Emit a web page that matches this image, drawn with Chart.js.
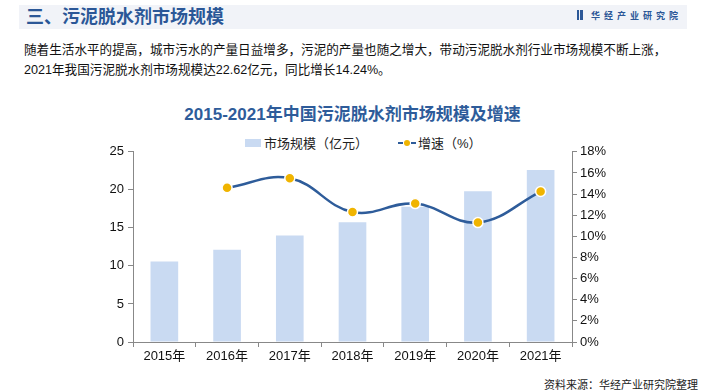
<!DOCTYPE html>
<html>
<head>
<meta charset="utf-8">
<script src="https://cdn.jsdelivr.net/npm/chart.js@4"></script>
<style>
  body { margin: 0; width: 705px; height: 392px; background: #fff; position: relative; overflow: hidden;
         font-family: "Liberation Sans", "Noto Sans CJK SC", sans-serif; }
  .band { position: absolute; left: 19px; top: 5px; width: 668px; height: 24px; background: #f1f3f8; }
  .head { position: absolute; left: 26px; top: 3px; font-size: 18px; font-weight: bold; color: #2b5797; line-height: 28px; }
  .logo { position: absolute; left: 577px; top: 10px; font-size: 9px; font-weight: bold; color: #2b5797; letter-spacing: 4px; line-height: 12px; }
  .logo i { display: inline-block; width: 6px; height: 10px; border-left: 2px solid #2b5797; border-right: 3px solid #2b5797; box-sizing: border-box; vertical-align: -1px; margin-right: 8px; }
  .para { position: absolute; left: 24px; top: 40px; font-size: 12.6px; line-height: 20px; color: #111; }
  .title { position: absolute; left: 0; width: 705px; top: 100px; text-align: center; font-size: 17px; font-weight: bold; color: #2e5c9a; }
  .legend { position: absolute; top: 133px; left: 245px; font-size: 13px; color: #222; white-space: nowrap; }
  .legend span { vertical-align: middle; }
  .sw { display: inline-block; width: 16px; height: 8px; background: #c9daf2; margin-right: 3px; }
  .ln { display: inline-block; position: relative; width: 18px; height: 10px; margin-left: 30px; margin-right: 2px; }
  .ln b { position: absolute; top: 4px; height: 2px; width: 5px; background: #2e5c9a; }
  .ln em { position: absolute; left: 6px; top: 2px; width: 6px; height: 6px; border-radius: 50%; background: #f0b400; }
  .src { position: absolute; right: 7px; top: 376px; font-size: 11px; color: #222; }
  #wrap { position: absolute; left: 0; top: 140px; width: 705px; height: 232px; }
</style>
</head>
<body>
<div class="band"></div>
<div class="head">三、污泥脱水剂市场规模</div>
<div class="logo"><i></i>华经产业研究院</div>
<div class="para">随着生活水平的提高，城市污水的产量日益增多，污泥的产量也随之增大，带动污泥脱水剂行业市场规模不断上涨，<br>2021年我国污泥脱水剂市场规模达22.62亿元，同比增长14.24%。</div>
<div class="title">2015-2021年中国污泥脱水剂市场规模及增速</div>
<div class="legend"><span class="sw"></span><span>市场规模（亿元）</span><span class="ln"><b style="left:0"></b><em></em><b style="left:13px"></b></span><span>增速（%）</span></div>
<div id="wrap"><canvas id="c"></canvas></div>
<div class="src">资料来源：华经产业研究院整理</div>
<script>
const years = ['2015年', '2016年', '2017年', '2018年', '2019年', '2020年', '2021年'];
const marketSize = [10.58, 12.12, 14.0, 15.73, 17.79, 19.8, 22.62];
const growth = [null, 14.6, 15.5, 12.3, 13.1, 11.3, 14.24];

const tickFont = { family: '"Liberation Sans", "Noto Sans CJK SC", sans-serif', size: 13 };

new Chart(document.getElementById('c'), {
  data: {
    labels: years,
    datasets: [
      {
        type: 'line', label: '增速（%）', data: growth, yAxisID: 'y1',
        borderColor: '#2e5c9a', borderWidth: 2.5, tension: 0.4,
        pointBackgroundColor: '#f0b400', pointBorderColor: '#fff', pointBorderWidth: 1.5,
        pointRadius: 5, order: 0
      },
      {
        type: 'bar', label: '市场规模（亿元）', data: marketSize, yAxisID: 'y',
        backgroundColor: '#c9daf2', categoryPercentage: 0.9, barPercentage: 0.49, order: 1
      }
    ]
  },
  options: {
    responsive: true, maintainAspectRatio: false, animation: false,
    layout: { padding: { left: 93, right: 93, top: 9, bottom: 0 } },
    plugins: { legend: { display: false }, tooltip: { enabled: false } },
    scales: {
      x: {
        grid: { drawOnChartArea: false, color: '#888', tickLength: 5, offset: true },
        border: { color: '#888' },
        ticks: { color: '#111', font: tickFont, padding: 2 },
        afterFit: s => { s.height = 30; }
      },
      y: {
        position: 'left', min: 0, max: 25,
        ticks: { stepSize: 5, color: '#111', font: tickFont, padding: 4 },
        grid: { drawOnChartArea: false, color: '#888', tickLength: 5 },
        border: { color: '#888' },
        afterFit: s => { s.width = 40; }
      },
      y1: {
        position: 'right', min: 0, max: 18,
        ticks: { stepSize: 2, color: '#111', font: tickFont, padding: 3, callback: v => v + '%' },
        grid: { drawOnChartArea: false, color: '#888', tickLength: 5 },
        border: { color: '#888' },
        afterFit: s => { s.width = 40; }
      }
    }
  }
});
</script>
</body>
</html>
